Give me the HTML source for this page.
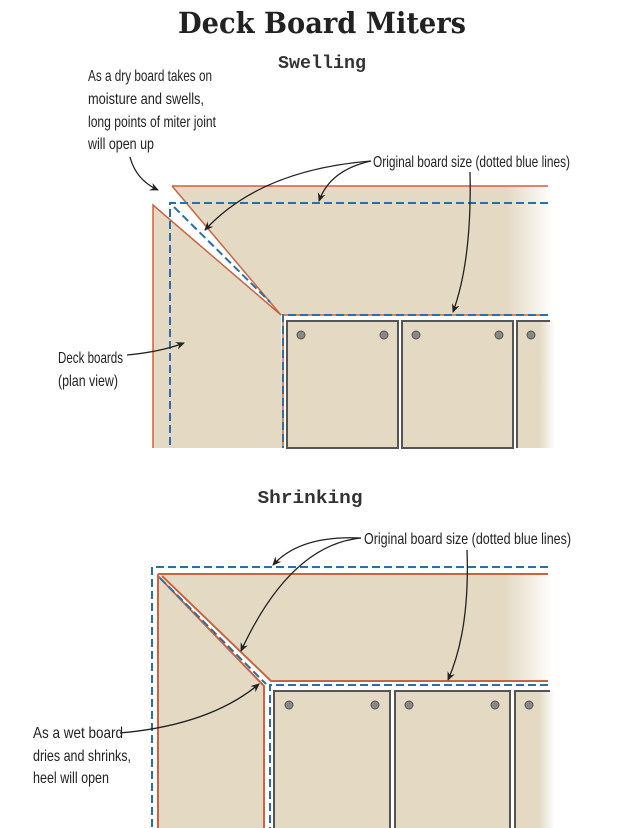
<!DOCTYPE html>
<html><head><meta charset="utf-8"><style>
html,body{margin:0;padding:0;background:#fff;}
svg{display:block;}
.lab{font-family:"Liberation Sans Narrow","Liberation Sans",sans-serif;font-size:16px;fill:#222;}
</style></head><body>
<svg width="637" height="828" viewBox="0 0 637 828" xmlns="http://www.w3.org/2000/svg">
<defs>
<linearGradient id="fade" x1="0" x2="1">
<stop offset="0" stop-color="#e4dac4" stop-opacity="1"/>
<stop offset="0.88" stop-color="#e4dac4" stop-opacity="1"/>
<stop offset="1" stop-color="#e4dac4" stop-opacity="0"/>
</linearGradient>
<linearGradient id="fade2" x1="0" x2="1">
<stop offset="0" stop-color="#e4dac4" stop-opacity="1"/>
<stop offset="0.6" stop-color="#e4dac4" stop-opacity="1"/>
<stop offset="1" stop-color="#e4dac4" stop-opacity="0"/>
</linearGradient>
<marker id="ah" markerWidth="10" markerHeight="10" refX="8" refY="5" orient="auto" markerUnits="userSpaceOnUse">
<path d="M0,1 L9,5 L0,9 L3,5 Z" fill="#222"/>
</marker>
</defs>

<text x="322" y="33" text-anchor="middle" font-family="DejaVu Serif" font-weight="bold" font-size="29" fill="#222" textLength="288" lengthAdjust="spacingAndGlyphs">Deck Board Miters</text>
<text x="322" y="68" text-anchor="middle" font-family="Liberation Mono" font-weight="bold" font-size="18" fill="#333" textLength="88" lengthAdjust="spacingAndGlyphs">Swelling</text>

<text class="lab" x="88" y="81" textLength="124" lengthAdjust="spacingAndGlyphs">As a dry board takes on</text>
<text class="lab" x="88" y="104" textLength="116" lengthAdjust="spacingAndGlyphs">moisture and swells,</text>
<text class="lab" x="88" y="127" textLength="128" lengthAdjust="spacingAndGlyphs">long points of miter joint</text>
<text class="lab" x="88" y="149" textLength="66" lengthAdjust="spacingAndGlyphs">will open up</text>
<text class="lab" x="373" y="167" textLength="197" lengthAdjust="spacingAndGlyphs">Original board size (dotted blue lines)</text>
<text class="lab" x="58" y="363" textLength="65" lengthAdjust="spacingAndGlyphs">Deck boards</text>
<text class="lab" x="58" y="386" textLength="60" lengthAdjust="spacingAndGlyphs">(plan view)</text>

<!-- TOP DIAGRAM -->
<polygon points="172,186 553,186 553,315 281,315" fill="url(#fade)"/>
<polyline points="172,186 281,315" fill="none" stroke="#c9643f" stroke-width="1.5"/>
<line x1="172" y1="186" x2="548" y2="186" stroke="#c9643f" stroke-width="1.5"/>
<polygon points="153,205 281,315 283,448 153,448" fill="#e4dac4"/>
<polyline points="153,448 153,205 281,315" fill="none" stroke="#c9643f" stroke-width="1.5"/>
<rect x="287" y="321" width="111" height="127" fill="#e4dac4" stroke="#555" stroke-width="2"/>
<rect x="402" y="321" width="111" height="127" fill="#e4dac4" stroke="#555" stroke-width="2"/>
<rect x="517" y="321" width="38" height="127" fill="url(#fade2)"/>
<polyline points="550,321 517,321 517,448" fill="none" stroke="#555" stroke-width="2"/>
<g fill="#888" stroke="#555" stroke-width="1">
<circle cx="301" cy="335" r="4"/><circle cx="384" cy="335" r="4"/>
<circle cx="416" cy="335" r="4"/><circle cx="499" cy="335" r="4"/>
<circle cx="531" cy="335" r="4"/>
</g>
<line x1="283" y1="315" x2="548" y2="315" stroke="#c9643f" stroke-width="1.5"/>
<line x1="283" y1="315" x2="283" y2="448" stroke="#c9643f" stroke-width="1.5"/>
<g fill="none" stroke="#2a6fa8" stroke-width="2" stroke-dasharray="8,4">
<polyline points="548,203 170,203 170,448"/>
<line x1="174" y1="207" x2="270" y2="302"/>
<polyline points="548,315 283,315 283,448"/>
</g>
<g fill="none" stroke="#222" stroke-width="1.3">
<path d="M130,157 Q136,180 158,190" marker-end="url(#ah)"/>
<path d="M371,161 Q260,170 205,230" marker-end="url(#ah)"/>
<path d="M371,161 Q330,170 319,201" marker-end="url(#ah)"/>
<path d="M470,172 Q472,260 453,312" marker-end="url(#ah)"/>
<path d="M127,355 Q160,352 184,343" marker-end="url(#ah)"/>
</g>

<!-- BOTTOM DIAGRAM -->
<text x="310" y="503" text-anchor="middle" font-family="Liberation Mono" font-weight="bold" font-size="18" fill="#333" textLength="105" lengthAdjust="spacingAndGlyphs">Shrinking</text>
<text class="lab" x="364" y="544" textLength="207" lengthAdjust="spacingAndGlyphs">Original board size (dotted blue lines)</text>
<text class="lab" x="33" y="738" textLength="90" lengthAdjust="spacingAndGlyphs">As a wet board</text>
<text class="lab" x="33" y="761" textLength="98" lengthAdjust="spacingAndGlyphs">dries and shrinks,</text>
<text class="lab" x="33" y="783" textLength="76" lengthAdjust="spacingAndGlyphs">heel will open</text>

<polygon points="160,575 553,575 553,681 272,681" fill="url(#fade)"/>
<polygon points="158,578 264,686 264,828 158,828" fill="#e4dac4"/>
<line x1="158" y1="574" x2="548" y2="574" stroke="#c9643f" stroke-width="2"/>
<polyline points="162,576 271,681 548,681" fill="none" stroke="#c9643f" stroke-width="2"/>
<polyline points="158,828 158,576 264,686 264,828" fill="none" stroke="#c9643f" stroke-width="2"/>
<rect x="274" y="691" width="116" height="140" fill="#e4dac4" stroke="#555" stroke-width="2"/>
<rect x="395" y="691" width="115" height="140" fill="#e4dac4" stroke="#555" stroke-width="2"/>
<rect x="515" y="691" width="40" height="140" fill="url(#fade2)"/>
<polyline points="550,691 515,691 515,828" fill="none" stroke="#555" stroke-width="2"/>
<g fill="#888" stroke="#555" stroke-width="1">
<circle cx="289" cy="705" r="4"/><circle cx="375" cy="705" r="4"/>
<circle cx="409" cy="705" r="4"/><circle cx="495" cy="705" r="4"/>
<circle cx="529" cy="705" r="4"/>
</g>
<g fill="none" stroke="#2a6fa8" stroke-width="2" stroke-dasharray="8,4">
<polyline points="548,567 152,567 152,828"/>
<line x1="160" y1="578" x2="266" y2="684"/>
<polyline points="548,685 270,685 270,828"/>
</g>
<g fill="none" stroke="#222" stroke-width="1.3">
<path d="M361,538 Q300,535 273,565" marker-end="url(#ah)"/>
<path d="M361,538 Q290,545 241,651" marker-end="url(#ah)"/>
<path d="M467,550 Q470,630 448,680" marker-end="url(#ah)"/>
<path d="M120,733 Q210,725 259,684" marker-end="url(#ah)"/>
</g>
</svg>
</body></html>
